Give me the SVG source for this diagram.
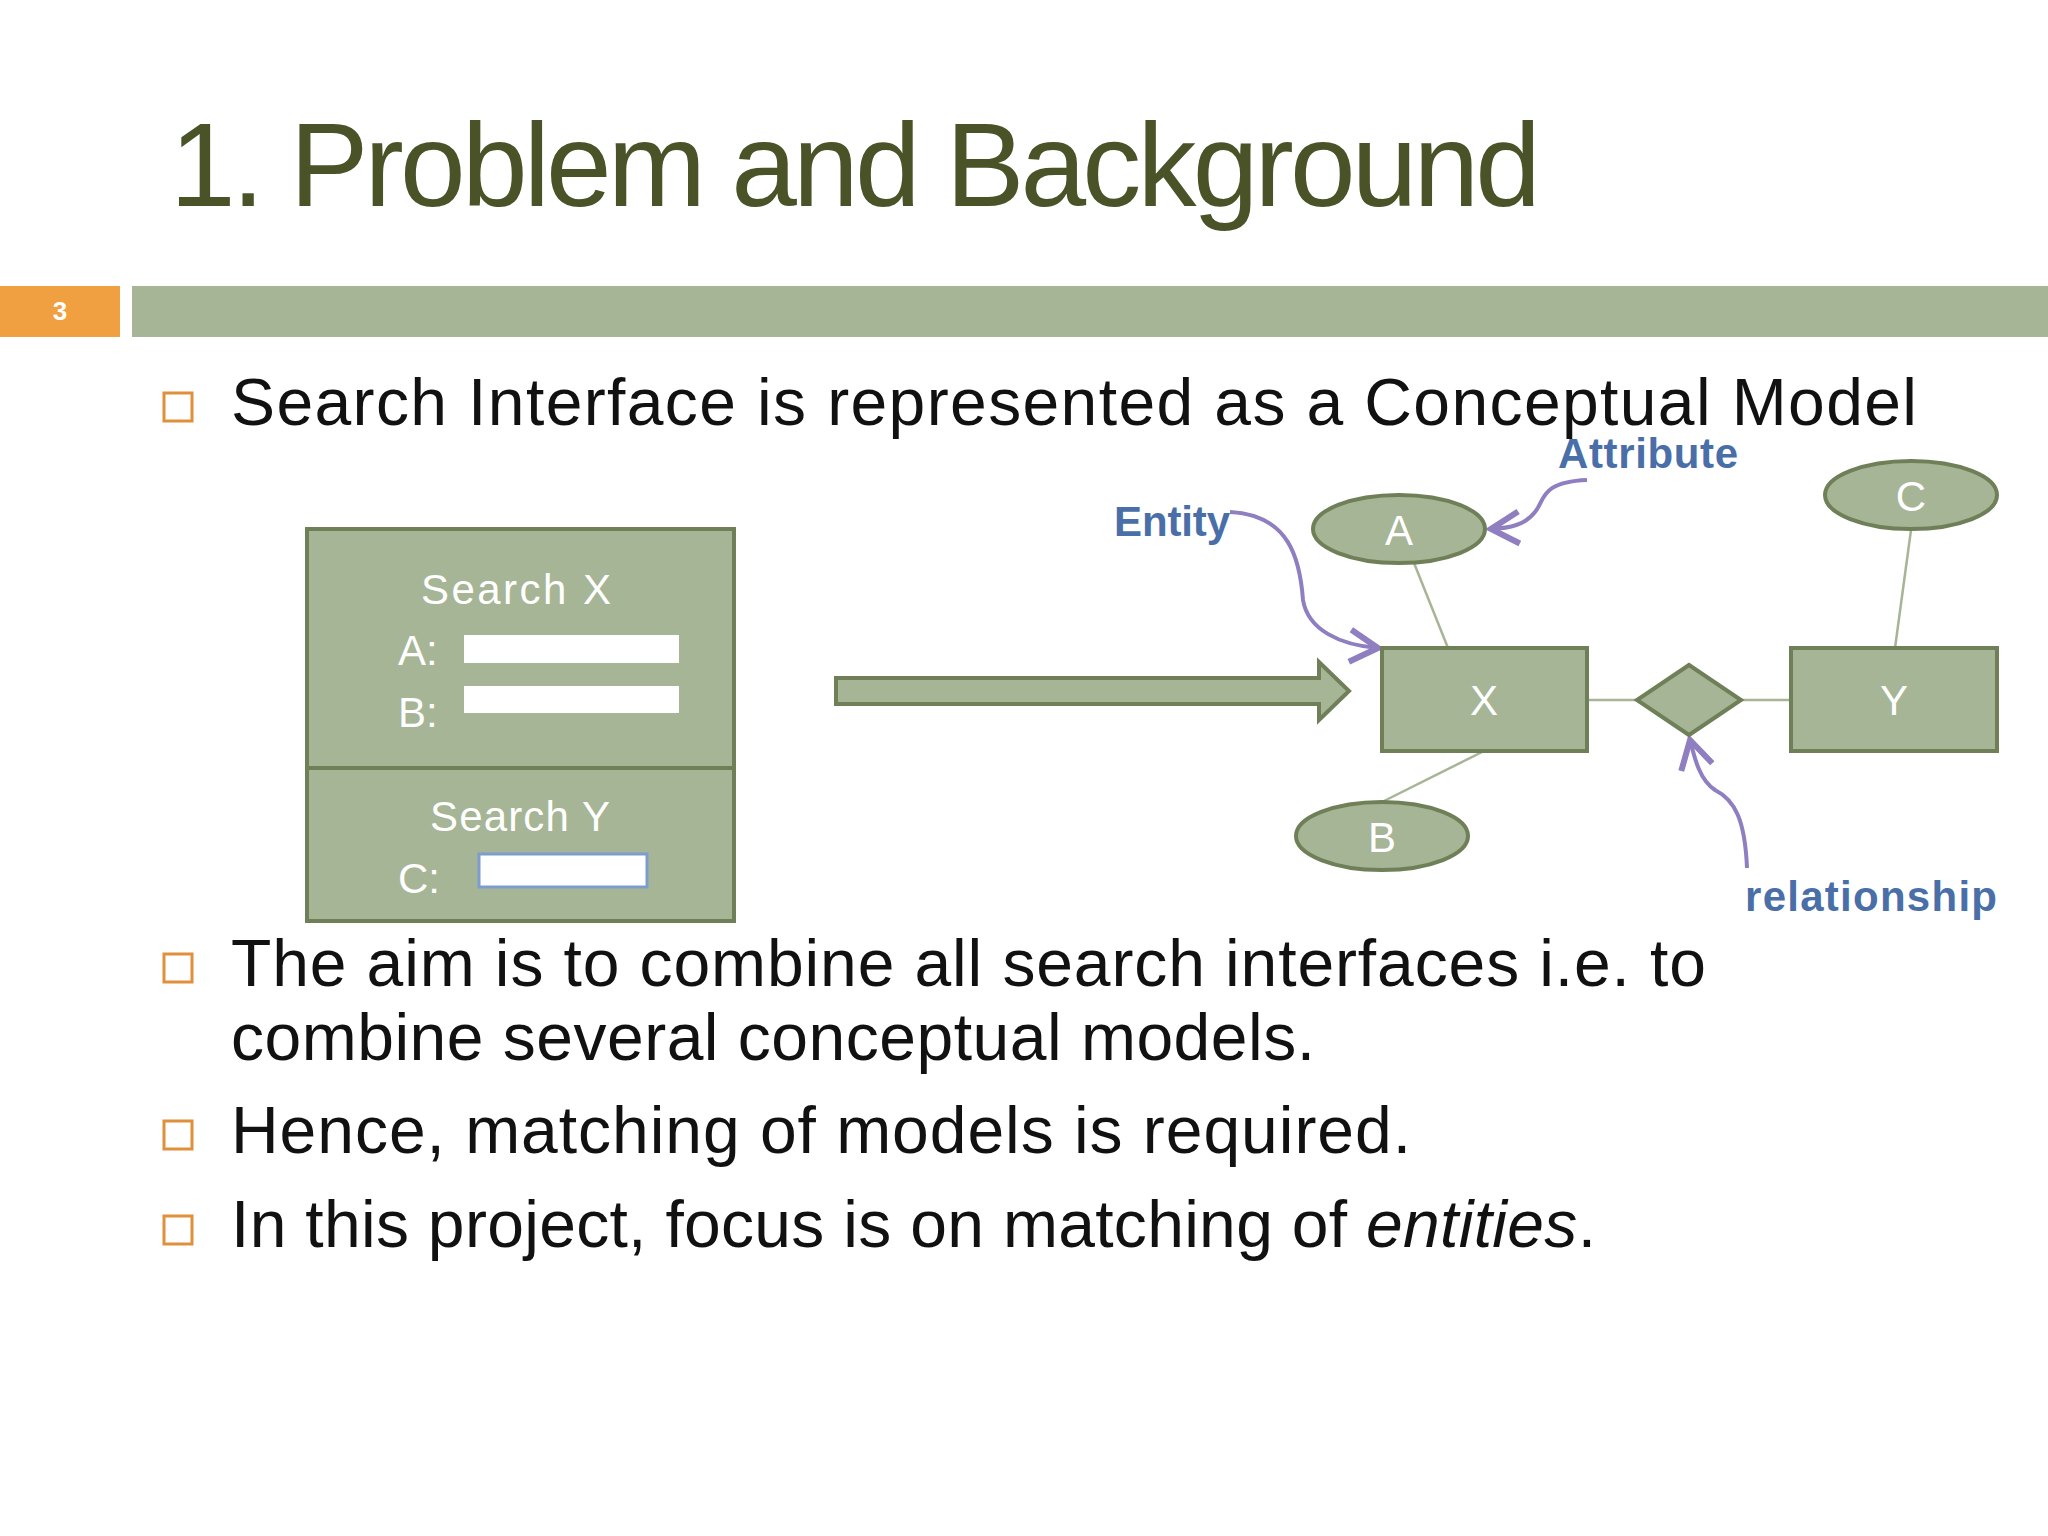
<svg xmlns="http://www.w3.org/2000/svg" width="2048" height="1536" viewBox="0 0 2048 1536">
<defs>
<style>
.t{font-family:"Liberation Sans",Arial,sans-serif;fill:#111}
.g{fill:#a6b595;stroke:#6f7f58;stroke-width:4}
.w{font-family:"Liberation Sans",Arial,sans-serif;fill:#fff;font-size:42px}
.lab{font-family:"Liberation Sans",Arial,sans-serif;font-weight:bold;fill:#4a6fa8;font-size:42px}
.ln{stroke:#a6b595;stroke-width:2.5;fill:none}
.pa{stroke:#8f7ec0;stroke-width:4;fill:none;marker-end:url(#pm)}
.sq{fill:none;stroke:#e0903a;stroke-width:3}
</style>
<marker id="pm" markerWidth="10" markerHeight="10" refX="8" refY="5" orient="auto" markerUnits="strokeWidth"><path d="M1,1 L8,5 L1,9" fill="none" stroke="#8f7ec0" stroke-width="1.5"/></marker>
</defs>
<rect width="2048" height="1536" fill="#fff"/>
<text x="170" y="206" font-family="Liberation Sans,Arial,sans-serif" font-size="118" fill="#4a5228" textLength="1371">1. Problem and Background</text>
<rect x="0" y="286" width="120" height="51" fill="#f0a040"/>
<text x="60" y="320" text-anchor="middle" font-family="Liberation Sans,Arial,sans-serif" font-size="26" font-weight="bold" fill="#fff">3</text>
<rect x="132" y="286" width="1916" height="51" fill="#a6b595"/>
<g id="bullets">
<rect class="sq" x="164" y="393" width="28" height="28"/>
<text class="t" x="231" y="425" font-size="66" textLength="1686">Search Interface is represented as a Conceptual Model</text>
<rect class="sq" x="164" y="954" width="28" height="28"/>
<text class="t" x="231" y="986" font-size="66" textLength="1475">The aim is to combine all search interfaces i.e. to</text>
<text class="t" x="231" y="1060" font-size="66" textLength="1084">combine several conceptual models.</text>
<rect class="sq" x="164" y="1121" width="28" height="28"/>
<text class="t" x="231" y="1153" font-size="66" textLength="1180">Hence, matching of models is required.</text>
<rect class="sq" x="164" y="1216" width="28" height="28"/>
<text class="t" x="231" y="1247" font-size="66" textLength="1365">In this project, focus is on matching of <tspan font-style="italic">entities</tspan>.</text>
</g>
<g id="search-form">
<rect class="g" x="307" y="529" width="427" height="239"/>
<rect class="g" x="307" y="768" width="427" height="153"/>
<text class="w" x="516" y="604" text-anchor="middle" textLength="190">Search  X</text>
<text class="w" x="398" y="665">A:</text>
<rect x="464" y="635" width="215" height="28" fill="#fff"/>
<text class="w" x="398" y="727">B:</text>
<rect x="464" y="686" width="215" height="27" fill="#fff"/>
<text class="w" x="520" y="831" text-anchor="middle" textLength="180">Search Y</text>
<text class="w" x="398" y="893">C:</text>
<rect x="479" y="854" width="168" height="33" fill="#fff" stroke="#7f9ccf" stroke-width="3"/>
</g>
<g id="big-arrow">
<path class="g" d="M836,678 L1319,678 L1319,662 L1349,691 L1319,720 L1319,704 L836,704 Z"/>
</g>
<g id="connectors">
<line class="ln" x1="1414" y1="563" x2="1448" y2="648"/>
<line class="ln" x1="1911" y1="530" x2="1895" y2="648"/>
<line class="ln" x1="1484" y1="751" x2="1384" y2="801"/>
<line class="ln" x1="1587" y1="700" x2="1637" y2="700"/>
<line class="ln" x1="1741" y1="700" x2="1791" y2="700"/>
<path class="pa" d="M1587,480 C1540,482 1545,500 1535,512 C1525,525 1510,528 1491,529"/>
<path class="pa" d="M1230,512 C1290,515 1300,560 1303,600 C1308,630 1340,645 1378,648"/>
<path class="pa" d="M1747,868 C1745,820 1735,800 1715,790 C1700,780 1695,760 1690,740"/>
</g>
<g id="X"><rect class="g" x="1382" y="648" width="205" height="103"/><text class="w" x="1484" y="715" text-anchor="middle">X</text></g>
<g id="Y"><rect class="g" x="1791" y="648" width="206" height="103"/><text class="w" x="1894" y="715" text-anchor="middle">Y</text></g>
<g id="rel"><path class="g" d="M1689,665 L1741,700 L1689,735 L1637,700 Z"/></g>
<g id="A"><ellipse class="g" cx="1399" cy="529" rx="86" ry="34"/><text class="w" x="1399" y="545" text-anchor="middle">A</text></g>
<g id="C"><ellipse class="g" cx="1911" cy="495" rx="86" ry="34"/><text class="w" x="1911" y="511" text-anchor="middle">C</text></g>
<g id="B"><ellipse class="g" cx="1382" cy="836" rx="86" ry="34"/><text class="w" x="1382" y="852" text-anchor="middle">B</text></g>
<g id="labels">
<text class="lab" x="1558" y="468" textLength="180">Attribute</text>
<text class="lab" x="1114" y="536" textLength="116">Entity</text>
<text class="lab" x="1745" y="911" textLength="252">relationship</text>
</g>
</svg>
